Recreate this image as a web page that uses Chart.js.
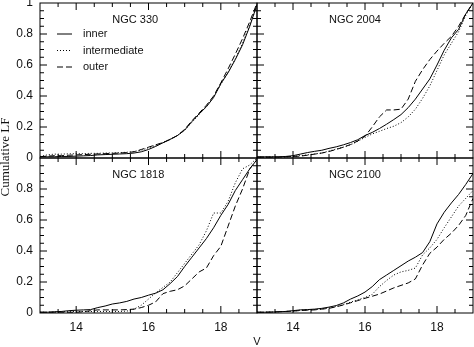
<!DOCTYPE html>
<html>
<head>
<meta charset="utf-8">
<script src="https://cdn.jsdelivr.net/npm/chart.js@4.4.1/dist/chart.umd.min.js"></script>
<style>
  body { margin: 0; background: #fff; }
  #fig { position: relative; width: 474px; height: 347px; }
  #fig canvas { position: absolute; left: 0; top: 0; }
</style>
</head>
<body>
<div id="fig">
  <canvas id="c330" width="474" height="347"></canvas>
  <canvas id="c2004" width="474" height="347"></canvas>
  <canvas id="c1818" width="474" height="347"></canvas>
  <canvas id="c2100" width="474" height="347"></canvas>
</div>
<script>
// V magnitude grid shared by every curve
const mags = [13.0, 13.2, 13.4, 13.6, 13.8, 14.0, 14.2, 14.4, 14.6, 14.8, 15.0, 15.2, 15.4, 15.6, 15.8,
  16.0, 16.2, 16.4, 16.6, 16.8, 17.0, 17.2, 17.4, 17.6, 17.8, 18.0, 18.2, 18.4, 18.6, 18.8, 19.0];

// cumulative luminosity functions (inner / intermediate / outer)
const n330Inner = [0.008, 0.008, 0.008, 0.010, 0.010, 0.012, 0.014, 0.016, 0.020, 0.022, 0.024, 0.026, 0.028, 0.032, 0.040,
  0.055, 0.075, 0.098, 0.120, 0.145, 0.180, 0.235, 0.285, 0.330, 0.390, 0.480, 0.550, 0.635, 0.730, 0.850, 0.990];
const n330Mid = [0.010, 0.020, 0.025, 0.025, 0.027, 0.028, 0.028, 0.030, 0.030, 0.032, 0.033, 0.035, 0.037, 0.042, 0.050,
  0.065, 0.082, 0.100, 0.122, 0.145, 0.180, 0.230, 0.280, 0.335, 0.395, 0.475, 0.555, 0.640, 0.740, 0.860, 0.980];
const n330Outer = [0.008, 0.012, 0.015, 0.015, 0.018, 0.020, 0.022, 0.024, 0.026, 0.028, 0.030, 0.032, 0.035, 0.040, 0.055,
  0.070, 0.085, 0.100, 0.120, 0.145, 0.185, 0.240, 0.290, 0.340, 0.400, 0.485, 0.575, 0.670, 0.770, 0.880, 1.000];

const n2004Inner = [0.008, 0.008, 0.008, 0.008, 0.010, 0.015, 0.025, 0.035, 0.043, 0.050, 0.062, 0.072, 0.085, 0.100, 0.118,
  0.145, 0.165, 0.190, 0.218, 0.248, 0.280, 0.325, 0.380, 0.445, 0.510, 0.600, 0.695, 0.775, 0.830, 0.930, 1.000];
const n2004Mid = [0.005, 0.005, 0.006, 0.006, 0.008, 0.010, 0.015, 0.020, 0.026, 0.032, 0.045, 0.058, 0.070, 0.085, 0.108,
  0.133, 0.155, 0.172, 0.190, 0.205, 0.228, 0.265, 0.315, 0.385, 0.465, 0.565, 0.665, 0.740, 0.815, 0.920, 1.000];
const n2004Outer = [0.005, 0.005, 0.005, 0.006, 0.008, 0.010, 0.012, 0.018, 0.025, 0.032, 0.042, 0.055, 0.070, 0.087, 0.110,
  0.140, 0.200, 0.265, 0.310, 0.310, 0.315, 0.380, 0.495, 0.570, 0.635, 0.690, 0.740, 0.785, 0.850, 0.930, 1.000];

const n1818Inner = [0.005, 0.005, 0.008, 0.010, 0.015, 0.018, 0.020, 0.022, 0.035, 0.045, 0.058, 0.065, 0.075, 0.090, 0.100,
  0.115, 0.128, 0.150, 0.190, 0.235, 0.300, 0.360, 0.420, 0.480, 0.550, 0.630, 0.700, 0.790, 0.860, 0.930, 0.990];
const n1818Mid = [0.005, 0.005, 0.005, 0.008, 0.008, 0.010, 0.010, 0.010, 0.010, 0.010, 0.010, 0.010, 0.012, 0.025, 0.050,
  0.090, 0.130, 0.165, 0.200, 0.260, 0.320, 0.380, 0.440, 0.530, 0.645, 0.645, 0.720, 0.840, 0.930, 0.955, 1.000];
const n1818Outer = [0.005, 0.005, 0.005, 0.005, 0.005, 0.005, 0.008, 0.015, 0.020, 0.020, 0.020, 0.020, 0.022, 0.025, 0.035,
  0.050, 0.072, 0.125, 0.140, 0.150, 0.175, 0.220, 0.265, 0.290, 0.370, 0.430, 0.560, 0.690, 0.800, 0.930, 0.990];

const n2100Inner = [0.005, 0.005, 0.006, 0.008, 0.010, 0.015, 0.020, 0.022, 0.025, 0.030, 0.038, 0.048, 0.065, 0.090, 0.110,
  0.135, 0.170, 0.215, 0.245, 0.275, 0.305, 0.335, 0.360, 0.390, 0.460, 0.575, 0.650, 0.710, 0.765, 0.830, 0.900];
const n2100Mid = [0.005, 0.005, 0.006, 0.008, 0.010, 0.012, 0.018, 0.020, 0.022, 0.027, 0.032, 0.042, 0.055, 0.070, 0.085,
  0.100, 0.120, 0.170, 0.210, 0.245, 0.265, 0.275, 0.290, 0.375, 0.420, 0.475, 0.550, 0.620, 0.690, 0.740, 0.790];
const n2100Outer = [0.005, 0.005, 0.006, 0.008, 0.010, 0.012, 0.016, 0.018, 0.020, 0.025, 0.030, 0.040, 0.052, 0.066, 0.080,
  0.095, 0.108, 0.122, 0.142, 0.162, 0.178, 0.194, 0.220, 0.310, 0.385, 0.425, 0.475, 0.515, 0.565, 0.630, 0.740];

const seriesNames = ['inner', 'intermediate', 'outer'];
const xLabels = [14, 16, 18];
const yLabelsTop = [0, 0.2, 0.4, 0.6, 0.8, 1];
const yLabelsBottom = [0, 0.2, 0.4, 0.6, 0.8];

const dashes = [[], [1, 2], [6, 3]];
const SANS = '"Liberation Sans", Arial, Helvetica, sans-serif';
Chart.defaults.font.family = SANS;
Chart.defaults.color = '#111';

// minor tick positions, every 0.5 mag and every 0.05 in fraction
const xMarks = [];
for (let v = 13.5; v < 19; v += 0.5) xMarks.push(v);
const yMarks = [];
for (let i = 1; i < 20; i++) yMarks.push(i * 0.05);

const panelDeco = {
  id: 'panelDeco',
  afterDatasetsDraw(chart, args, opts) {
    const { ctx, chartArea: a, scales: { x, y } } = chart;
    ctx.save();
    ctx.strokeStyle = '#000';
    ctx.lineWidth = 1;
    ctx.strokeRect(a.left, a.top, a.right - a.left, a.bottom - a.top);
    ctx.beginPath();
    xMarks.forEach(v => {
      const px = x.getPixelForValue(v);
      const len = v % 2 === 0 ? 7 : 4;
      ctx.moveTo(px, a.bottom); ctx.lineTo(px, a.bottom - len);
      ctx.moveTo(px, a.top); ctx.lineTo(px, a.top + len);
    });
    yMarks.forEach(v => {
      const py = y.getPixelForValue(v);
      const major = Math.abs(v * 5 - Math.round(v * 5)) < 1e-6;
      const len = major ? 7 : 4;
      ctx.moveTo(a.left, py); ctx.lineTo(a.left + len, py);
      ctx.moveTo(a.right, py); ctx.lineTo(a.right - len, py);
    });
    ctx.stroke();

    // cluster name
    ctx.fillStyle = '#111';
    ctx.font = '11px ' + SANS;
    ctx.textAlign = 'left';
    ctx.textBaseline = 'middle';
    ctx.fillText(opts.title, x.getPixelForValue(15), a.top + 17);

    if (opts.legend) {
      chart.data.datasets.forEach((ds, i) => {
        const ly = a.top + 31 + i * 16.5;
        ctx.beginPath();
        ctx.setLineDash(ds.borderDash);
        ctx.moveTo(a.left + 17, ly);
        ctx.lineTo(a.left + 32, ly);
        ctx.stroke();
        ctx.setLineDash([]);
        ctx.fillText(ds.label, a.left + 43, ly);
      });
    }

    if (opts.axisTitles) {
      ctx.textAlign = 'center';
      ctx.fillText('V', 257, 342);
      ctx.save();
      ctx.translate(9, 157);
      ctx.rotate(-Math.PI / 2);
      ctx.font = '13px "Liberation Serif", "Times New Roman", serif';
      ctx.textBaseline = 'alphabetic';
      ctx.fillText('Cumulative LF', 0, 0);
      ctx.restore();
    }
    ctx.restore();
  }
};

function makePanel(id, title, curves, col, row, extra) {
  const left = col === 0 ? 40 : 257;
  const right = col === 0 ? 257 : 473;
  const top = row === 0 ? 3 : 158;
  const bottom = row === 0 ? 158 : 313;
  const showX = row === 1;
  const showY = col === 0;
  const yLabels = row === 0 ? yLabelsTop : yLabelsBottom;

  new Chart(document.getElementById(id), {
    type: 'line',
    data: {
      datasets: curves.map((vals, i) => ({
        label: seriesNames[i],
        data: mags.map((m, k) => ({ x: m, y: vals[k] })),
        borderColor: '#000',
        borderWidth: 1,
        borderDash: dashes[i],
        pointRadius: 0,
        tension: 0,
        fill: false
      }))
    },
    options: {
      responsive: false,
      animation: false,
      devicePixelRatio: 1,
      layout: {
        padding: {
          left: showY ? left - 40 : left,
          right: 474 - right,
          top: top,
          bottom: showX ? 347 - bottom - 34 : 347 - bottom
        }
      },
      scales: {
        x: {
          type: 'linear', min: 13, max: 19, display: showX,
          grid: { display: false, drawTicks: false },
          border: { display: false },
          afterBuildTicks: s => { s.ticks = xLabels.map(v => ({ value: v })); },
          afterFit: s => {
            if (!showX) return;
            s.height = 34; s.paddingLeft = 0; s.paddingRight = 0;
          },
          ticks: { padding: 7, font: { size: 12 }, maxRotation: 0, autoSkip: false, callback: v => String(v) }
        },
        y: {
          type: 'linear', min: 0, max: 1, display: showY,
          grid: { display: false, drawTicks: false },
          border: { display: false },
          afterBuildTicks: s => { s.ticks = yLabels.map(v => ({ value: v })); },
          afterFit: s => {
            if (!showY) return;
            s.width = 40; s.paddingTop = 0; s.paddingBottom = 0;
          },
          ticks: {
            padding: 7, font: { size: 12 }, autoSkip: false,
            callback: v => (v === 0 ? '0' : v === 1 ? '1' : v.toFixed(1))
          }
        }
      },
      plugins: {
        legend: { display: false },
        tooltip: { enabled: false },
        panelDeco: Object.assign({ title: title }, extra)
      }
    },
    plugins: [panelDeco]
  });
}

makePanel('c330', 'NGC 330', [n330Inner, n330Mid, n330Outer], 0, 0, { legend: true });
makePanel('c2004', 'NGC 2004', [n2004Inner, n2004Mid, n2004Outer], 1, 0, {});
makePanel('c1818', 'NGC 1818', [n1818Inner, n1818Mid, n1818Outer], 0, 1, { axisTitles: true });
makePanel('c2100', 'NGC 2100', [n2100Inner, n2100Mid, n2100Outer], 1, 1, {});
</script>
</body>
</html>
